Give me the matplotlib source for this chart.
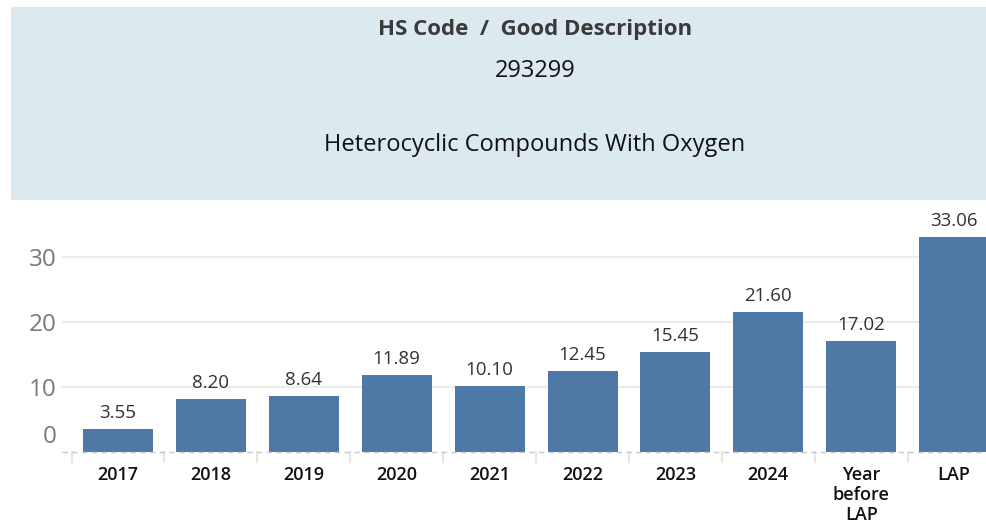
import matplotlib.pyplot as plt
from matplotlib.patches import Rectangle
import numpy as np

plt.rcParams["font.family"] = ["Open Sans", "DejaVu Sans"]

# datos del grafico
categorias = ["2017", "2018", "2019", "2020", "2021", "2022", "2023", "2024", "Year\nbefore\nLAP", "LAP"]
valores = [3.55, 8.20, 8.64, 11.89, 10.10, 12.45, 15.45, 21.60, 17.02, 33.06]
ticks_y = [0, 10, 20, 30]

titulo = "HS Code  /  Good Description"
codigo = "293299"
descripcion = "Heterocyclic Compounds With Oxygen"

W, H = 987, 531
fig = plt.figure(figsize=(W / 100, H / 100), dpi=100)

# cabecera azul claro
fig.patches.append(Rectangle((11 / W, 1 - 200 / H), (987 - 11) / W, (200 - 7) / H,
                             transform=fig.transFigure, facecolor="#dce9ef", edgecolor="none", zorder=0))
fig.text(535 / W, 1 - 29 / H, titulo, ha="center", va="center", fontsize=16,
         fontweight="bold", color="#3a3a3a")
fig.text(535 / W, 1 - 71 / H, codigo, ha="center", va="center", fontsize=17, color="#111111")
fig.text(535 / W, 1 - 145 / H, descripcion, ha="center", va="center", fontsize=17, color="#111111")

# ejes: cero en y=452px, 6.5 px por unidad
ax_left, ax_right = 62, 987
ax_bottom, ax_top = 452, 205
ax = fig.add_axes([ax_left / W, 1 - ax_bottom / H, (ax_right - ax_left) / W, (ax_bottom - ax_top) / H])
paso = 92.9
xmin = -(118 - ax_left) / paso
xmax = xmin + (ax_right - ax_left) / paso
ax.set_xlim(xmin, xmax)
ax.set_ylim(0, (ax_bottom - ax_top) / 6.5)

x = np.arange(len(categorias))
barras = ax.bar(x, valores, width=70 / paso, color="#4e79a7", zorder=3)
for xi, v in zip(x, valores):
    ax.annotate("{:.2f}".format(v), (xi, v), xytext=(0, 5), textcoords="offset points",
                ha="center", va="bottom", fontsize=13.5, color="#333333")

for t in ticks_y[1:]:
    ax.axhline(t, color="#ececec", linewidth=1.5, zorder=1)
ax.axhline(0, color="#c8c8c8", linewidth=1, linestyle=(0, (4, 3)), zorder=4, clip_on=False)

for s in ax.spines.values():
    s.set_visible(False)
ax.set_yticks(ticks_y[1:])
ax.set_yticklabels([str(t) for t in ticks_y[1:]], fontsize=17.5, color="#7a7a7a")
ax.tick_params(axis="y", length=0, pad=4)
# etiqueta del cero un poco arriba, como en la original
ax.annotate(str(ticks_y[0]), (0, 0), xycoords=("axes fraction", "data"), xytext=(-4, 11),
            textcoords="offset points", ha="right", va="center", fontsize=17.5, color="#7a7a7a",
            annotation_clip=False)

ax.set_xticks(x)
ax.set_xticklabels(categorias, fontsize=13, fontweight="semibold", color="#111111", linespacing=1.15)
ax.tick_params(axis="x", length=0, pad=10)

# separadores de categorias
for b in np.arange(len(categorias) + 1) - 0.5:
    ax.plot([b, b], [0, -1.5], color="#e6e6e6", linewidth=1.5, clip_on=False, zorder=2)

plt.savefig("out.png", dpi=100)
